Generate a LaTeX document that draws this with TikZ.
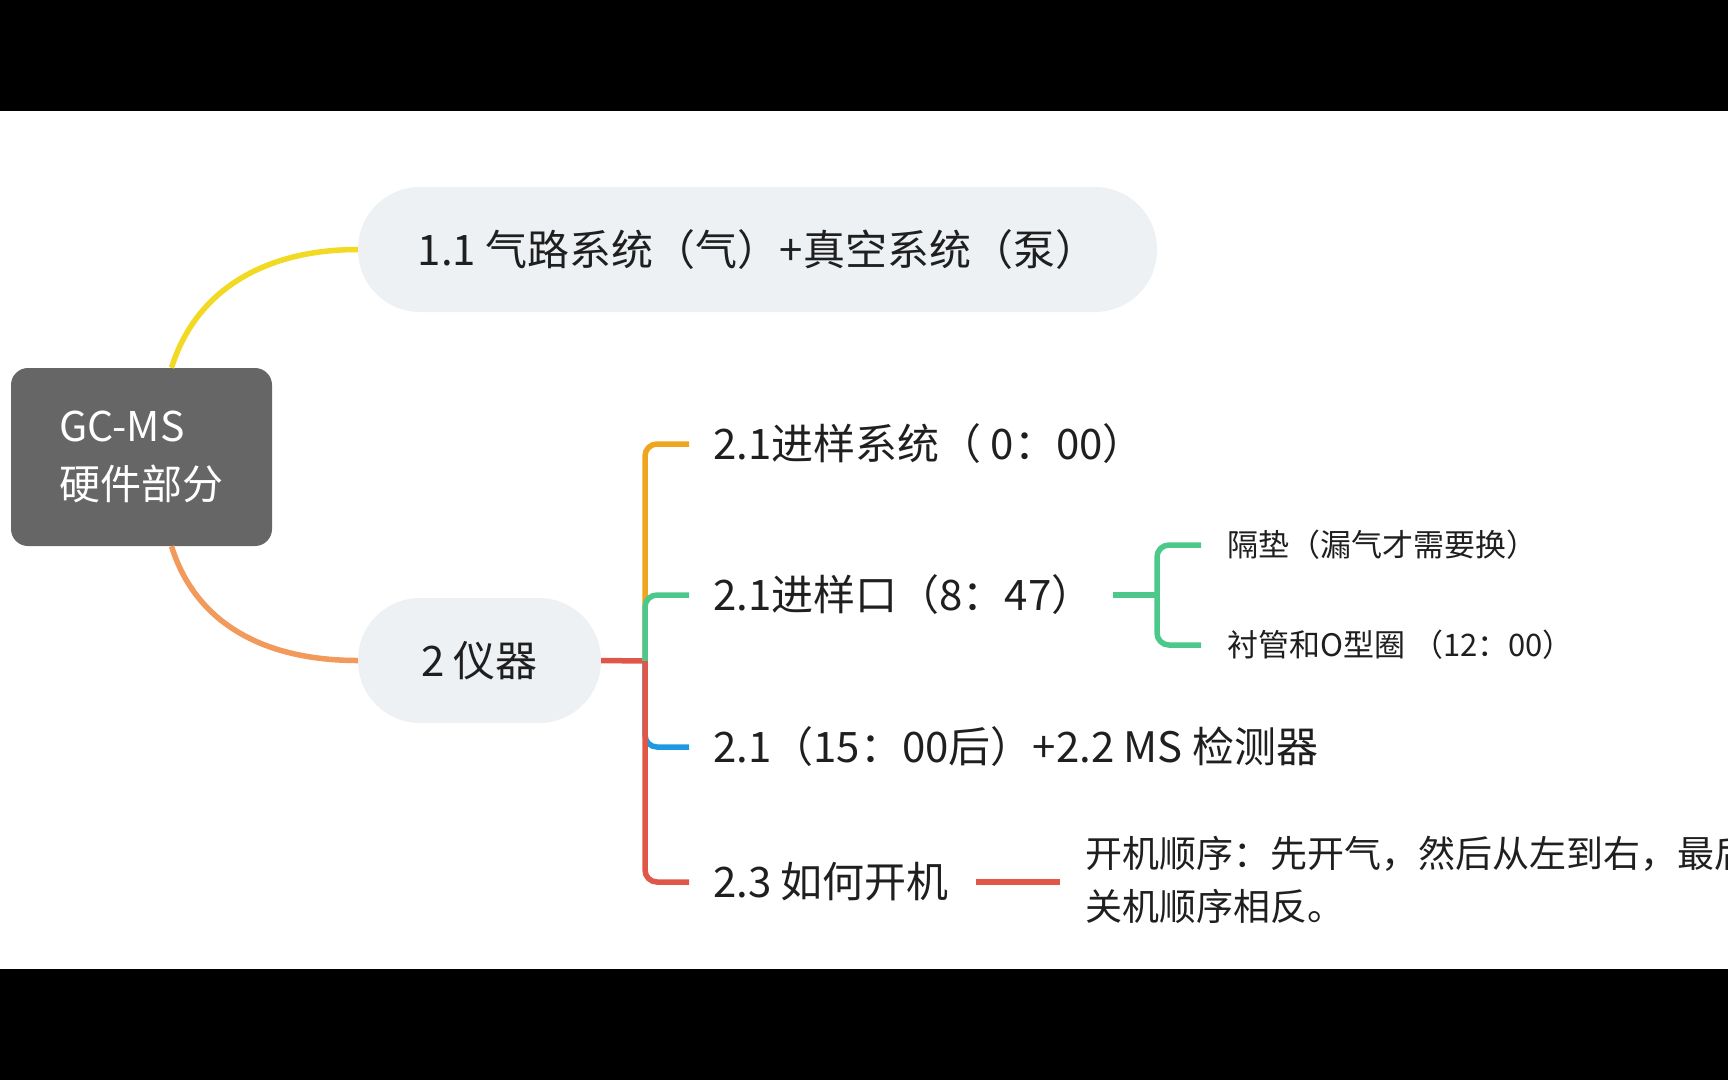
\documentclass[tikz,border=0pt]{standalone}
\usepackage{fontspec}
\setmainfont{Noto Sans CJK SC}
\definecolor{pillgray}{HTML}{EDF1F4}
\definecolor{rootgray}{HTML}{666666}
\definecolor{cyellow}{HTML}{F2D923}
\definecolor{corange}{HTML}{F19A5B}
\definecolor{camber}{HTML}{F0A51E}
\definecolor{cgreen}{HTML}{4CC98A}
\definecolor{cblue}{HTML}{1E9BE0}
\definecolor{cred}{HTML}{E0574A}
\begin{document}
\begin{tikzpicture}[x=1pt,y=-1pt,
	every node/.style={inner sep=0pt,text=black!88,font=\fontsize{42}{50}\selectfont},
	pill/.style={fill=pillgray,rounded corners=62pt,minimum height=125pt},
	branch/.style={line width=5.5pt,rounded corners=12pt}]
	\useasboundingbox (0,0) rectangle (1728,1080);
	\fill[black] (0,0) rectangle (1728,111);
	\fill[black] (0,969) rectangle (1728,1080);

	%root
	\node[fill=rootgray,rounded corners=17pt,minimum width=261pt,minimum height=178pt,
		text=white,align=left,font=\fontsize{41}{58}\selectfont] (n0) at (141.5,457) {GC-MS\\硬件部分};

	%first level
	\node[pill,minimum width=799pt] (n1) at (757.5,249.5) {1.1 气路系统（气）+真空系统（泵）};
	\node[pill,minimum width=243pt] (n4) at (479.5,660.5) {2 仪器};

	%second level
	\node[anchor=west] (n5) at (713,444) {2.1进样系统（ 0：00）};
	\node[anchor=west] (n6) at (713,595) {2.1进样口（8：47）};
	\node[anchor=west] (n7) at (713,747) {2.1（15：00后）+2.2 MS 检测器};
	\node[anchor=west] (n9) at (713,882) {2.3 如何开机};

	%third level
	\node[anchor=west,font=\fontsize{31}{37}\selectfont] (n8) at (1227,545) {隔垫（漏气才需要换）};
	\node[anchor=west,font=\fontsize{31}{37}\selectfont] (n11) at (1227,645) {衬管和O型圈 （12：00）};
	\node[anchor=west,align=left,font=\fontsize{37}{53}\selectfont] (n10) at (1085,880)
		{开机顺序：先开气，然后从左到右，最后\\关机顺序相反。};

	\coordinate (hub) at (645,661);
	\coordinate (b2) at (1157,595);

	%edges
	\draw[line width=5.5pt,cyellow] ([xshift=30pt]n0.north) .. controls +(25,-80) and +(-90,0) .. (n1.west);
	\draw[line width=5.5pt,corange] ([xshift=30pt]n0.south) .. controls +(25,80) and +(-90,0) .. (n4.west);
	\draw[line width=5.5pt,cred] (n4.east) -- (hub);
	\draw[branch,camber,shorten >=24pt] (hub) |- (n5.west);
	\draw[branch,cgreen,shorten >=24pt] (hub) |- (n6.west);
	\draw[branch,cblue,shorten >=24pt] (hub) |- (n7.west);
	\draw[branch,cred,shorten >=24pt] (hub) |- (n9.west);
	\draw[line width=5.5pt,cgreen] ([xshift=-44pt]b2) -- (b2);
	\draw[branch,cgreen,shorten >=26pt] (b2) |- (n8.west);
	\draw[branch,cgreen,shorten >=26pt] (b2) |- (n11.west);
	\draw[line width=5.5pt,cred] ([xshift=27pt]n9.east) -- ([xshift=-25pt]n9.east -| n10.west);
\end{tikzpicture}
\end{document}
